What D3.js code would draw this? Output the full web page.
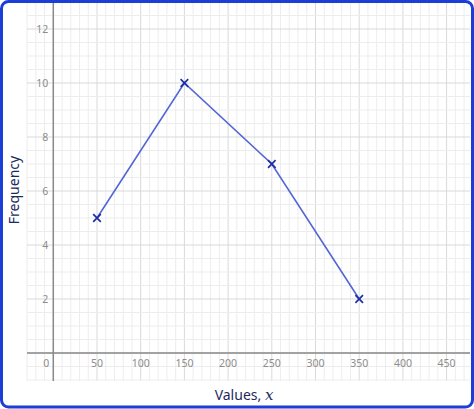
<!DOCTYPE html>
<html lang="en">
<head>
<meta charset="UTF-8">
<title>Frequency polygon</title>
<script src="https://d3js.org/d3.v7.min.js"></script>
<style>
  body { margin: 0; background: #ffffff; }
  svg { display: block; }
</style>
</head>
<body>
<div id="chart"></div>
<script>
// data
var values = [50, 150, 250, 350];
var frequency = [5, 10, 7, 2];
var xTicks = [0, 50, 100, 150, 200, 250, 300, 350, 400, 450];
var yTicks = [2, 4, 6, 8, 10, 12];

var W = 474, H = 409;

var svg = d3.select("#chart").append("svg")
  .attr("width", W)
  .attr("height", H);

var x = d3.scaleLinear().domain([0, 450]).range([53.3, 446.6]);
var y = d3.scaleLinear().domain([0, 12]).range([353, 29]);

// grid area extends a bit past the axes
var gy0 = y.invert(381), gy1 = y.invert(2);

var grid = svg.append("g");
// minor vertical lines every 10
d3.range(-30, 480, 10).forEach(function(v) {
  if (x(v) < 27 || x(v) > 470) return;
  grid.append("line")
    .attr("x1", x(v)).attr("x2", x(v))
    .attr("y1", y(gy1)).attr("y2", y(gy0))
    .attr("stroke", v % 50 == 0 ? "#d9d9d9" : "#ededed")
    .attr("stroke-width", 1);
});
// minor horizontal lines every 0.5
d3.range(-1, 13.5, 0.5).forEach(function(v) {
  if (y(v) > 381 || y(v) < 2) return;
  grid.append("line")
    .attr("x1", 27).attr("x2", 470)
    .attr("y1", y(v)).attr("y2", y(v))
    .attr("stroke", v % 2 == 0 ? "#d9d9d9" : "#ededed")
    .attr("stroke-width", 1);
});

// axes
svg.append("line")
  .attr("x1", 27).attr("x2", 470)
  .attr("y1", y(0)).attr("y2", y(0))
  .attr("stroke", "#8a8a8a").attr("stroke-width", 1.5);
svg.append("line")
  .attr("x1", x(0)).attr("x2", x(0))
  .attr("y1", 2).attr("y2", 381)
  .attr("stroke", "#8a8a8a").attr("stroke-width", 1.5);

// tick labels
svg.append("g").selectAll("text")
  .data(xTicks)
  .enter().append("text")
    .attr("x", function(d) { return d == 0 ? x(0) - 7 : x(d); })
    .attr("y", y(0) + 14)
    .attr("text-anchor", "middle")
    .attr("fill", "#8c8c8c")
    .style("font-family", "'Noto Sans', sans-serif")
    .style("font-size", "10.5px")
    .text(function(d) { return d; });

svg.append("g").selectAll("text")
  .data(yTicks)
  .enter().append("text")
    .attr("x", x(0) - 5)
    .attr("y", function(d) { return y(d) + 4; })
    .attr("text-anchor", "end")
    .attr("fill", "#8c8c8c")
    .style("font-family", "'Noto Sans', sans-serif")
    .style("font-size", "10.5px")
    .text(function(d) { return d; });

// polygon line
var pts = values.map(function(v, i) { return [v, frequency[i]]; });
svg.append("path")
  .datum(pts)
  .attr("fill", "none")
  .attr("stroke", "#5467d6")
  .attr("stroke-width", 1.6)
  .attr("d", d3.line()
    .x(function(d) { return x(d[0]); })
    .y(function(d) { return y(d[1]); }));

// cross markers
var s = 3.8;
svg.append("g").selectAll("path")
  .data(pts)
  .enter().append("path")
    .attr("d", function(d) {
      var cx = x(d[0]), cy = y(d[1]);
      return "M" + (cx - s) + "," + (cy - s) + "L" + (cx + s) + "," + (cy + s) +
             "M" + (cx - s) + "," + (cy + s) + "L" + (cx + s) + "," + (cy - s);
    })
    .attr("stroke", "#1b2ea6")
    .attr("stroke-width", 1.7)
    .attr("fill", "none");

// axis titles
svg.append("text")
  .attr("transform", "translate(19,190) rotate(-90)")
  .attr("text-anchor", "middle")
  .attr("fill", "#1c2b5e")
  .style("font-family", "'Noto Sans', sans-serif")
  .style("font-size", "14px")
  .text("Frequency");

var xt = svg.append("text")
  .attr("x", 244)
  .attr("y", 400)
  .attr("text-anchor", "middle")
  .attr("fill", "#1c2b5e")
  .style("font-family", "'Noto Sans', sans-serif")
  .style("font-size", "14px");
xt.append("tspan").text("Values, ");
xt.append("tspan")
  .style("font-family", "'DejaVu Serif', serif")
  .style("font-style", "italic")
  .style("font-size", "15px")
  .text("x");

// frame
svg.append("rect")
  .attr("x", 1.5).attr("y", 1.5)
  .attr("width", W - 3).attr("height", H - 3.5)
  .attr("rx", 7)
  .attr("fill", "none")
  .attr("stroke", "#1a3ed6")
  .attr("stroke-width", 3);
</script>
</body>
</html>
